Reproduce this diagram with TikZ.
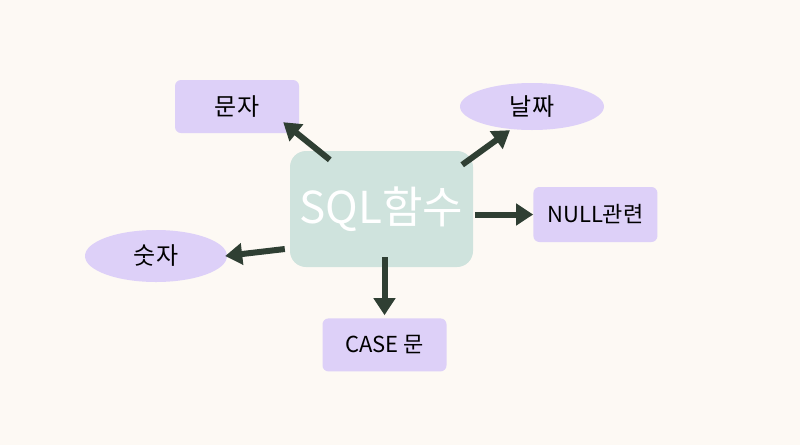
\documentclass[tikz,border=0pt]{standalone}
\usepackage{fontspec}
\setmainfont{Noto Sans CJK KR}
\usetikzlibrary{arrows.meta,positioning,shapes.geometric}
\definecolor{paper}{HTML}{FDF9F4}
\definecolor{lilac}{HTML}{DDD0F8}
\definecolor{mint}{HTML}{CFE3DD}
\definecolor{ink}{HTML}{2F3F33}

\begin{document}
\begin{tikzpicture}[
    x=1pt, y=-1pt,
    font=\fontsize{24}{28}\selectfont,
    box/.style={fill=lilac, rounded corners=6pt, align=center, minimum width=124pt, minimum height=53pt, inner sep=0pt},
    oval/.style={ellipse, fill=lilac, inner sep=0pt},
    hub/.style={fill=mint, rounded corners=16pt, minimum width=183pt, minimum height=116pt, inner sep=0pt, text=white, font=\fontsize{44}{50}\selectfont},
    line/.style={-{Triangle[length=17pt,width=21pt]}, line width=6pt, color=ink},
  ]
    \fill[paper] (0,0) rectangle (800,445);

    \node[hub] (sql) at (381.5,209) {SQL함수};
    \node[box] (munja) at (237,106.5) {문자};
    \node[oval, minimum width=144pt, minimum height=47pt] (nalja) at (532,106.5) {날짜};
    \node[oval, minimum width=142pt, minimum height=52pt] (sutja) at (156,256) {숫자};
    \node[box, minimum height=55pt, font=\fontsize{22}{26}\selectfont, right=60pt of sql, yshift=-5.5pt] (null) {NULL관련};
    \node[box, font=\fontsize{22}{26}\selectfont, below=51pt of sql, xshift=3pt] (case) {CASE 문};

    \draw[line] ([xshift=40pt,yshift=-9pt]sql.north west) -- ([xshift=-16pt,yshift=11pt]munja.south east);
    \draw[line] ([xshift=-11pt,yshift=-14pt]sql.north east) -- ([xshift=-22pt]nalja.south);
    \draw[line] ([xshift=2pt]sql.east |- null.west) -- (null.west);
    \draw[line] ([xshift=-5pt,yshift=-40pt]sql.west) -- ([xshift=-2pt]sutja.east);
    \draw[line] ([yshift=10pt]sql.south -| case.north) -- ([yshift=3pt]case.north);
  \end{tikzpicture}
\end{document}
